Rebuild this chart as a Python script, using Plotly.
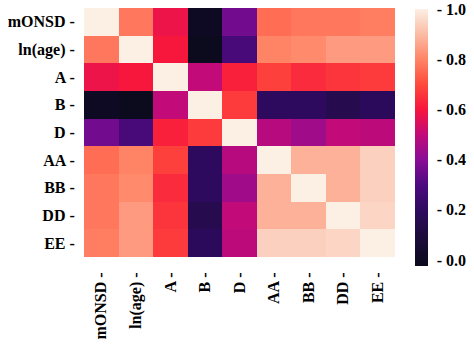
import plotly.graph_objects as go

labels = ["mONSD", "ln(age)", "A", "B", "D", "AA", "BB", "DD", "EE"]

# correlation matrix (symmetric)
row_mONSD = [1.00, 0.78, 0.58, 0.00, 0.36, 0.76, 0.78, 0.78, 0.79]
row_lnage = [0.78, 1.00, 0.60, -0.02, 0.28, 0.80, 0.81, 0.84, 0.84]
row_A     = [0.58, 0.60, 1.00, 0.50, 0.62, 0.68, 0.64, 0.66, 0.67]
row_B     = [0.00, -0.02, 0.50, 1.00, 0.67, 0.20, 0.20, 0.15, 0.19]
row_D     = [0.36, 0.28, 0.62, 0.67, 1.00, 0.48, 0.44, 0.50, 0.49]
row_AA    = [0.76, 0.80, 0.68, 0.20, 0.48, 1.00, 0.88, 0.88, 0.94]
row_BB    = [0.78, 0.81, 0.64, 0.20, 0.44, 0.88, 1.00, 0.88, 0.94]
row_DD    = [0.78, 0.84, 0.66, 0.15, 0.50, 0.88, 0.88, 1.00, 0.95]
row_EE    = [0.79, 0.84, 0.67, 0.19, 0.49, 0.94, 0.94, 0.95, 1.00]
z = [row_mONSD, row_lnage, row_A, row_B, row_D, row_AA, row_BB, row_DD, row_EE]

zmin, zmax = -0.024, 1.0
cbar_ticks = [0.0, 0.2, 0.4, 0.6, 0.8, 1.0]
cbar_text = ["- 0.0", "- 0.2", "- 0.4", "- 0.6", "- 0.8", "- 1.0"]

# colour stops by value (rocket-like, as rendered in the reference)
stop_vals = [-0.024, 0.1, 0.2, 0.3, 0.4, 0.5, 0.6, 0.7, 0.8, 0.9, 1.0]
stop_cols = ["#0b0a1c", "#1e0b3e", "#2e0a5e", "#4e0a80", "#8a0c96", "#c20a78",
             "#f7163c", "#ff4a3c", "#ff8466", "#fbbca4", "#fcefe4"]
colorscale = [[(v - zmin) / (zmax - zmin), c] for v, c in zip(stop_vals, stop_cols)]
colorscale[0][0] = 0.0
colorscale[-1][0] = 1.0

FAM = "Liberation Serif, Times New Roman, serif"
tfont = dict(family=FAM, size=16, color="black", weight="bold")

fig = go.Figure(go.Heatmap(
    z=z, x=labels, y=labels,
    zmin=zmin, zmax=zmax,
    colorscale=colorscale,
    colorbar=dict(
        thickness=13, thicknessmode="pixels",
        len=257, lenmode="pixels",
        x=1.063, xanchor="left", xpad=0,
        y=0.996, yanchor="top", ypad=0,
        outlinewidth=0,
        tickmode="array", tickvals=cbar_ticks, ticktext=cbar_text,
        ticks="outside", ticklen=6, tickcolor="rgba(0,0,0,0)",
        tickfont=tfont,
    ),
))

fig.update_layout(
    width=474, height=348,
    margin=dict(l=80, r=75, t=8, b=82),
    paper_bgcolor="white", plot_bgcolor="white",
    font=dict(family=FAM, size=16, color="black"),
)
fig.update_xaxes(
    tickangle=-90, ticksuffix=" -", ticks="outside", ticklen=8,
    tickcolor="rgba(0,0,0,0)", showgrid=False, zeroline=False,
    tickfont=tfont,
)
fig.update_yaxes(
    autorange="reversed", ticksuffix=" -", ticks="outside", ticklen=5,
    tickcolor="rgba(0,0,0,0)", showgrid=False, zeroline=False,
    tickfont=tfont,
)

fig.write_html("out.html")
